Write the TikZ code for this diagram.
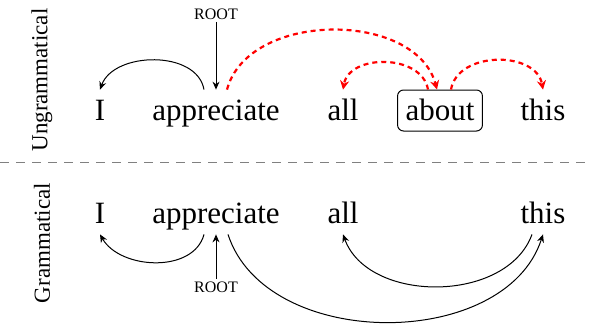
\documentclass[tikz,border=0pt]{standalone}
\usepackage{fontspec}
\setmainfont{Liberation Serif}
\usetikzlibrary{arrows.meta,calc}
\tikzset{
  % a word of the sentence, all with the same box height
  word/.style={anchor=base,inner sep=4pt,text height=11pt,text depth=1.5pt,
    font=\fontsize{15.5}{18}\selectfont},
  % arcs of the dependency trees
  dep/.style={-{Stealth[length=4pt,width=3.5pt]},line width=.5pt},
  baddep/.style={-{Stealth[length=4.5pt,width=4.5pt]},red,line width=1.1pt,
    dash pattern=on 2.5pt off 2pt},
  rootlabel/.style={font=\fontsize{8}{9}\selectfont,inner sep=1pt},
  rowlabel/.style={rotate=90,font=\fontsize{11.5}{13}\selectfont},
}

\begin{document}
\begin{tikzpicture}[x=.5pt,y=.5pt]
\useasboundingbox (0,0) rectangle (589,323);

% ungrammatical sentence
\node[rowlabel] (lu) at (42,243) {Ungrammatical};
\node[word] (tI) at (100,203) {I};
\node[word] (tappr) at (216,203) {appreciate};
\node[word] (tall) at (343,203) {all};
\node[word,draw,rounded corners=3pt,line width=.5pt] (tabout) at (440,203) {about};
\node[word] (tthis) at (543,203) {this};
\node[rootlabel] (troot) at (216,309) {ROOT};

\draw[dep] (troot) -- (tappr.north);
\draw[dep] ($(tappr.north)+(-12,0)$) to[out=100,in=70] (tI.north);
\draw[baddep] ($(tappr.north)+(11,0)$) to[out=75,in=105] ($(tabout.north)+(-3,0)$);
\draw[baddep] ($(tabout.north)+(-12,0)$) to[out=100,in=80,looseness=1.1] (tall.north);
\draw[baddep] ($(tabout.north)+(11,0)$) to[out=80,in=100,looseness=1.1] (tthis.north);

\draw[gray,line width=.5pt,dash pattern=on 4.5pt off 3.5pt] (0,161) -- (589,161);

% grammatical sentence
\node[rowlabel] (lg) at (42,80) {Grammatical};
\node[word] (bI) at (100,100) {I};
\node[word] (bappr) at (216,100) {appreciate};
\node[word] (ball) at (343,100) {all};
\node[word] (bthis) at (543,100) {this};
\node[rootlabel] (broot) at (216,36) {ROOT};

\draw[dep] (broot) -- (bappr.south);
\draw[dep] ($(bappr.south)+(-12,0)$) to[out=-105,in=-60] (bI.south);
\draw[dep] ($(bappr.south)+(12,0)$) to[out=-72,in=-108] (bthis.south);
\draw[dep] ($(bthis.south)+(-11,0)$) to[out=-110,in=-70] (ball.south);

\end{tikzpicture}
\end{document}
